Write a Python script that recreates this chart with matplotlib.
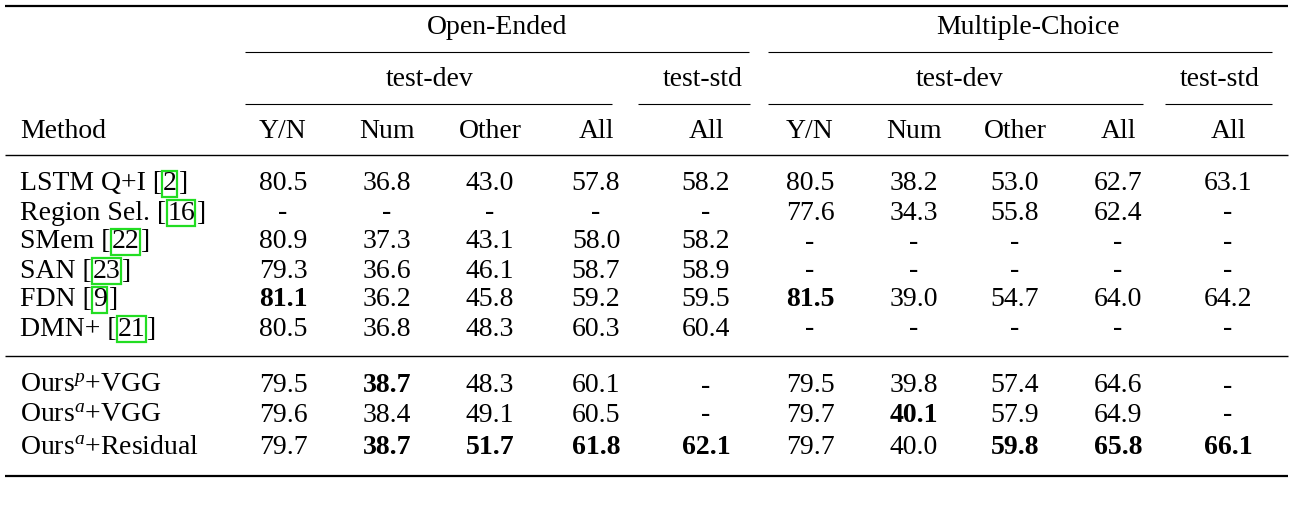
import matplotlib
matplotlib.use("Agg")
import matplotlib.pyplot as plt

plt.rcParams['font.family'] = ['Liberation Serif', 'DejaVu Serif']
plt.rcParams['mathtext.fontset'] = 'custom'
plt.rcParams['mathtext.rm'] = 'Liberation Serif'
plt.rcParams['mathtext.it'] = 'Liberation Serif:italic'

methods = [("LSTM Q+I [", "2"), ("Region Sel. [", "16"), ("SMem [", "22"), ("SAN [", "23"),
           ("FDN [", "9"), ("DMN+ [", "21"), ("Ours$^p$+VGG", None), ("Ours$^a$+VGG", None),
           ("Ours$^a$+Residual", None)]
oe_yn = ["80.5", "-", "80.9", "79.3", "81.1", "80.5", "79.5", "79.6", "79.7"]
oe_num = ["36.8", "-", "37.3", "36.6", "36.2", "36.8", "38.7", "38.4", "38.7"]
oe_other = ["43.0", "-", "43.1", "46.1", "45.8", "48.3", "48.3", "49.1", "51.7"]
oe_all = ["57.8", "-", "58.0", "58.7", "59.2", "60.3", "60.1", "60.5", "61.8"]
oe_std = ["58.2", "-", "58.2", "58.9", "59.5", "60.4", "-", "-", "62.1"]
mc_yn = ["80.5", "77.6", "-", "-", "81.5", "-", "79.5", "79.7", "79.7"]
mc_num = ["38.2", "34.3", "-", "-", "39.0", "-", "39.8", "40.1", "40.0"]
mc_other = ["53.0", "55.8", "-", "-", "54.7", "-", "57.4", "57.9", "59.8"]
mc_all = ["62.7", "62.4", "-", "-", "64.0", "-", "64.6", "64.9", "65.8"]
mc_std = ["63.1", "-", "-", "-", "64.2", "-", "-", "-", "66.1"]
columns = [oe_yn, oe_num, oe_other, oe_all, oe_std, mc_yn, mc_num, mc_other, mc_all, mc_std]
col_labels = ["Y/N", "Num", "Other", "All", "All", "Y/N", "Num", "Other", "All", "All"]
bold = {(4, 0), (6, 1), (8, 1), (8, 2), (8, 3), (8, 4), (4, 5), (7, 6), (8, 7), (8, 8), (8, 9)}

W, H = 1293, 505
fig = plt.figure(figsize=(W / 100, H / 100), dpi=100)
ax = fig.add_axes([0, 0, 1, 1])
ax.set_xlim(0, W); ax.set_ylim(H, 0); ax.axis('off')
fs = 20

def hline(x0, x1, y, lw):
    ax.plot([x0, x1], [y, y], color='black', lw=lw, solid_capstyle='butt')

hline(5, 1288, 6, 1.6)
hline(245, 749, 52, 0.8); hline(768, 1272, 52, 0.8)
hline(245, 612, 104, 0.8); hline(638, 750, 104, 0.8)
hline(768, 1143, 104, 0.8); hline(1165, 1272, 104, 0.8)
hline(5, 1288, 155, 1.0)
hline(5, 1288, 356, 1.0)
hline(5, 1288, 476, 1.6)

ax.text(497, 28, "Open-Ended", ha='center', va='center', fontsize=fs)
ax.text(1028, 28, "Multiple-Choice", ha='center', va='center', fontsize=fs)
for x, t in [(430, "test-dev"), (703, "test-std"), (960, "test-dev"), (1220, "test-std")]:
    ax.text(x, 79, t, ha='center', va='center', fontsize=fs)
xs = [283, 387, 490, 596, 706, 810, 914, 1015, 1118, 1228]
ax.text(20, 131, "Method", ha='left', va='center', fontsize=fs)
for x, t in zip(xs, col_labels):
    ax.text(x, 131, t, ha='center', va='center', fontsize=fs)

rows_y = [184, 213, 242, 271, 300, 329, 386, 415, 448]
fig.canvas.draw()
r = fig.canvas.get_renderer()
for i, (m, ref) in enumerate(methods):
    y = rows_y[i]
    t = ax.text(20, y, m, ha='left', va='center', fontsize=fs)
    if ref:
        bb = t.get_window_extent(r)
        t2 = ax.text(bb.x1 + 1, y, ref, ha='left', va='center', fontsize=fs,
                     bbox=dict(facecolor='none', edgecolor='#22dd22', lw=1.6, pad=0.4))
        bb2 = t2.get_window_extent(r)
        ax.text(bb2.x1 + 1, y, "]", ha='left', va='center', fontsize=fs)
    for j, col in enumerate(columns):
        ax.text(xs[j], y, col[i], ha='center', va='center', fontsize=fs,
                fontweight='bold' if (i, j) in bold else 'normal')

fig.savefig("out.png", dpi=100)
